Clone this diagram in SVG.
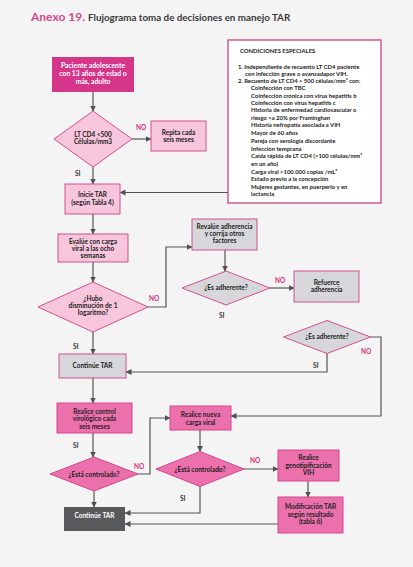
<svg xmlns="http://www.w3.org/2000/svg" width="413" height="567" viewBox="0 0 413 567">
<defs>
<marker id="ah" markerUnits="userSpaceOnUse" markerWidth="6" markerHeight="6" refX="5.5" refY="3" orient="auto"><path d="M0,0 L6,3 L0,6 z" fill="#505050"/></marker>
<style>
text{font-family:Lato,"Open Sans","Liberation Sans",sans-serif;font-weight:bold}
.t{font-size:6.5px;fill:#222;text-anchor:middle}
.tw{font-size:6.5px;fill:#ffffff;text-anchor:middle}
.lp{fill:#f7c6dc;stroke:#d2508e;stroke-width:1}
.gr{fill:#d7d7db;stroke:#d2508e;stroke-width:1}
.mp{fill:#ec70ac;stroke:#d4468a;stroke-width:1}
.no{font-size:6.5px;fill:#d42f7c}
.si{font-size:6.5px;fill:#333}
.c{fill:none;stroke:#555;stroke-width:1.2}
.a{marker-end:url(#ah)}
.cd{font-size:5.9px;fill:#222}
</style>
</defs>
<rect x="0" y="0" width="413" height="567" fill="#f4f4f4"/>
<g id="title">
<text x="31" y="21" style="font-size:12px;fill:#d6478a">Anexo 19.</text>
<text x="88" y="21" style="font-size:9.8px;fill:#3a3a3a">Flujograma toma de decisiones en manejo TAR</text>
</g>
<g id="condiciones">
<rect x="228" y="40" width="153" height="163" fill="#ffffff" stroke="#c8447f" stroke-width="1.3"/>
<text class="cd" x="240" y="53">CONDICIONES ESPECIALES</text>
<text class="cd" x="238" y="69">1. Independiente de recuento LT CD4 paciente</text>
<text class="cd" x="245" y="75.5">con infección grave o avanzadapor VIH.</text>
<text class="cd" x="238" y="82.5">2. Recuento de LT CD4 &gt; 500 células/mm³ con:</text>
<text class="cd" x="251" y="90">Coinfección con TBC</text>
<text class="cd" x="251" y="97.5">Coinfección crónica con virus hepatitis b</text>
<text class="cd" x="251" y="104.5">Coinfección con virus hepatitis c</text>
<text class="cd" x="251" y="112">Historia de enfermedad cardiovascular o</text>
<text class="cd" x="251" y="119.5">riesgo &gt;a 20% por Framinghan</text>
<text class="cd" x="251" y="127">Historia nefropatía asociada a VIH</text>
<text class="cd" x="251" y="135">Mayor de 60 años</text>
<text class="cd" x="251" y="143">Pareja con serología discordante</text>
<text class="cd" x="251" y="150.5">Infección temprana</text>
<text class="cd" x="251" y="158">Caída rápida de LT CD4 (&gt;100 células/mm³</text>
<text class="cd" x="251" y="165.5">en un año)</text>
<text class="cd" x="251" y="173.5">Carga viral &gt;100.000 copias /mL²</text>
<text class="cd" x="251" y="181">Estado previo a la concepción</text>
<text class="cd" x="251" y="188.5">Mujeres gestantes, en puerperio y en</text>
<text class="cd" x="251" y="195.5">lactancia</text>
</g>
<g id="connectors">
<line class="c a" x1="93" y1="92" x2="93" y2="111"/>
<line class="c a" x1="132" y1="139" x2="151" y2="139"/>
<line class="c a" x1="93" y1="167" x2="93" y2="184"/>
<line class="c a" x1="228" y1="192.5" x2="120" y2="192.5"/>
<line class="c a" x1="93" y1="214" x2="93" y2="234"/>
<line class="c a" x1="93" y1="262" x2="93" y2="282"/>
<polyline class="c a" points="148,307 166,307 166,247 192,247"/>
<line class="c a" x1="225" y1="250" x2="225" y2="271"/>
<line class="c a" x1="270" y1="288" x2="294" y2="288"/>
<polyline class="c a" points="370.5,337 381,337 381,416 231,416"/>
<polyline class="c a" points="327,353.5 327,372 126,372"/>
<line class="c a" x1="93" y1="332" x2="93" y2="354"/>
<line class="c a" x1="93" y1="378" x2="93" y2="403"/>
<line class="c a" x1="93" y1="433" x2="93" y2="457"/>
<polyline class="c a" points="138,474 150,474 150,418 170,418"/>
<line class="c a" x1="94" y1="491" x2="94" y2="507"/>
<line class="c a" x1="200" y1="430" x2="200" y2="451.5"/>
<line class="c a" x1="244" y1="469" x2="278" y2="469"/>
<line class="c a" x1="308" y1="481" x2="308" y2="497"/>
<polyline class="c a" points="200,486.5 200,513 125,513"/>
<line class="c a" x1="278" y1="524" x2="125" y2="524"/>
</g>
<g id="labels">
<text class="no" x="136" y="130">NO</text>
<text class="si" x="75" y="176">SI</text>
<text class="no" x="149" y="301">NO</text>
<text class="no" x="275" y="283">NO</text>
<text class="si" x="219" y="318">SI</text>
<text class="no" x="361" y="354">NO</text>
<text class="si" x="313" y="368">SI</text>
<text class="si" x="73" y="349">SI</text>
<text class="si" x="73" y="448">SI</text>
<text class="no" x="134" y="469">NO</text>
<text class="no" x="250" y="463">NO</text>
<text class="si" x="180" y="501">SI</text>
</g>
<g id="n-paciente">
<rect x="52" y="57" width="82" height="35" fill="#d6368a"/>
<text class="tw" x="93" y="67.5" style="font-size:6.8px">Paciente adolescente</text>
<text class="tw" x="93" y="75.5" style="font-size:6.8px">con 13 años de edad o</text>
<text class="tw" x="93" y="83.5" style="font-size:6.8px">más, adulto</text>
</g>
<g id="d-cd4">
<polygon class="lp" points="93,111 132,139 93,167 54,139"/>
<text class="t" x="93" y="137">LT CD4 &lt;500</text>
<text class="t" x="93" y="144">Células/mm3</text>
</g>
<g id="n-repita">
<rect class="lp" x="151" y="121" width="55" height="30"/>
<text class="t" x="178.5" y="134.5">Repita cada</text>
<text class="t" x="178.5" y="141.5">seis meses</text>
</g>
<g id="n-inicie">
<rect class="lp" x="65" y="184" width="55" height="30"/>
<text class="t" x="92.5" y="197">Inicie TAR</text>
<text class="t" x="92.5" y="205">(según Tabla 4)</text>
</g>
<g id="n-evalue">
<rect class="lp" x="58" y="234" width="70" height="28"/>
<text class="t" x="93" y="244">Evalúe con carga</text>
<text class="t" x="93" y="251">viral a las ocho</text>
<text class="t" x="93" y="258">semanas</text>
</g>
<g id="d-hubo">
<polygon class="lp" points="93,282 148,307 93,332 38,307"/>
<text class="t" x="93" y="300.5">¿Hubo</text>
<text class="t" x="93" y="308">disminución de 1</text>
<text class="t" x="93" y="315">logaritmo?</text>
</g>
<g id="n-revalue">
<rect class="gr" x="192" y="219" width="65" height="31"/>
<text class="t" x="224.5" y="228.5">Revalúe adherencia</text>
<text class="t" x="224.5" y="235.5">y corrija otros</text>
<text class="t" x="224.5" y="242.5">factores</text>
</g>
<g id="d-adherente1">
<polygon class="gr" points="226,271 270,288 226,305 182,288"/>
<text class="t" x="226" y="290">¿Es adherente?</text>
</g>
<g id="n-refuerce">
<rect class="gr" x="294" y="271" width="65" height="31"/>
<text class="t" x="326.5" y="284.5">Refuerce</text>
<text class="t" x="326.5" y="291.5">adherencia</text>
</g>
<g id="d-adherente2">
<polygon class="gr" points="327,320.5 370.5,337 327,353.5 283.5,337"/>
<text class="t" x="327" y="339">¿Es adherente?</text>
</g>
<g id="n-continue1">
<rect class="gr" x="59" y="354" width="67" height="24"/>
<text class="t" x="92.5" y="368">Continúe TAR</text>
</g>
<g id="n-control">
<rect class="mp" x="57" y="403" width="75" height="30"/>
<text class="t" x="94.5" y="413.5">Realice control</text>
<text class="t" x="94.5" y="421">virológico cada</text>
<text class="t" x="94.5" y="428.5">seis meses</text>
</g>
<g id="d-controlado1">
<polygon class="mp" points="94,457 138,474 94,491 50,474"/>
<text class="t" x="94" y="476.5">¿Está controlado?</text>
</g>
<g id="n-continue2">
<rect x="64" y="507" width="61" height="24" fill="#58595b"/>
<text class="tw" x="94.5" y="517.5">Continúe TAR</text>
</g>
<g id="n-nueva">
<rect class="mp" x="170" y="406" width="61" height="24"/>
<text class="t" x="200.5" y="416.5">Realice nueva</text>
<text class="t" x="200.5" y="424.5">carga viral</text>
</g>
<g id="d-controlado2">
<polygon class="mp" points="200,451.5 244,469 200,486.5 156,469"/>
<text class="t" x="200" y="471.5">¿Está controlado?</text>
</g>
<g id="n-genotip">
<rect class="mp" x="278" y="450" width="61" height="31"/>
<text class="t" x="308.5" y="460">Realice</text>
<text class="t" x="308.5" y="467.5">genotipificación</text>
<text class="t" x="308.5" y="475">VIH</text>
</g>
<g id="n-modif">
<rect class="mp" x="278" y="497" width="65" height="36"/>
<text class="t" x="310.5" y="509">Modificación TAR</text>
<text class="t" x="310.5" y="516.5">según resultado</text>
<text class="t" x="310.5" y="524">(tabla 6)</text>
</g>
</svg>
